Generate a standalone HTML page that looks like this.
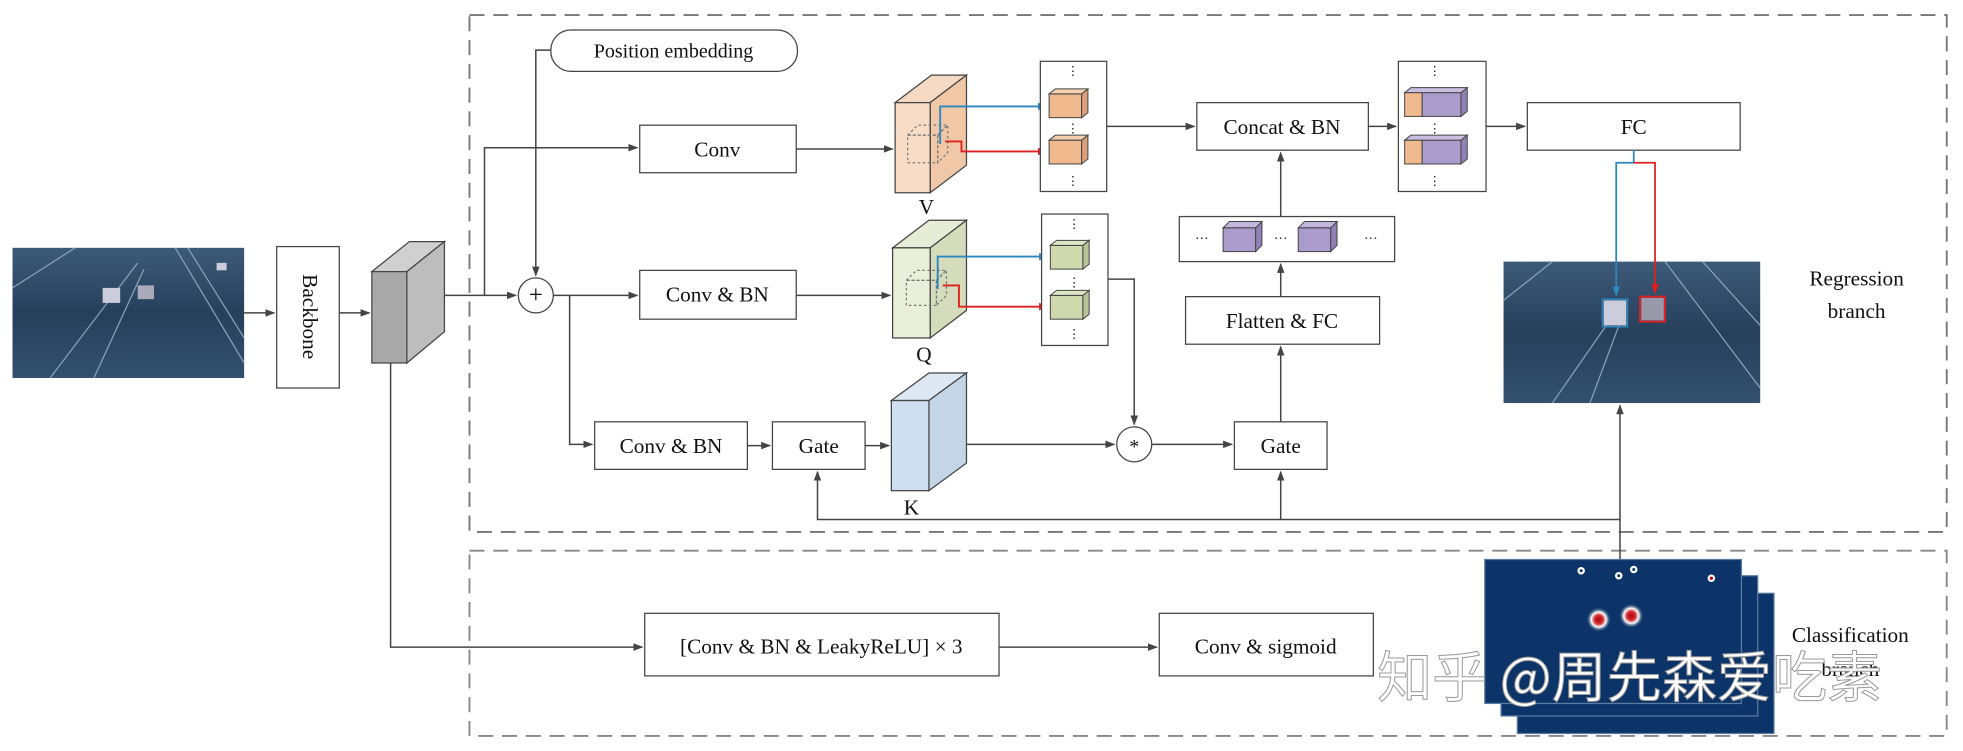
<!DOCTYPE html>
<html><head><meta charset="utf-8"><style>
html,body{margin:0;padding:0;background:#fff;}
svg{display:block;}
text{font-family:"Liberation Serif",serif;fill:#111;}
</style></head><body>
<svg width="1963" height="751" viewBox="0 0 1568 600" preserveAspectRatio="none" xmlns="http://www.w3.org/2000/svg">
<defs>
<marker id="a" markerWidth="8" markerHeight="8" refX="7" refY="4" orient="auto" markerUnits="userSpaceOnUse"><path d="M0,1 L8,4 L0,7 z" fill="#444"/></marker>
<marker id="ab" markerWidth="8" markerHeight="8" refX="7" refY="4" orient="auto" markerUnits="userSpaceOnUse"><path d="M0,1 L8,4 L0,7 z" fill="#2e86c1"/></marker>
<marker id="ar" markerWidth="8" markerHeight="8" refX="7" refY="4" orient="auto" markerUnits="userSpaceOnUse"><path d="M0,1 L8,4 L0,7 z" fill="#e02020"/></marker>
<linearGradient id="road" x1="0" y1="0" x2="0" y2="1"><stop offset="0" stop-color="#3d5a78"/><stop offset="0.5" stop-color="#26405c"/><stop offset="1" stop-color="#33506f"/></linearGradient>
<radialGradient id="hot"><stop offset="0" stop-color="#b00010"/><stop offset="0.35" stop-color="#d03030"/><stop offset="0.6" stop-color="#ffffff"/><stop offset="1" stop-color="#0a2f66" stop-opacity="0"/></radialGradient>
</defs>

<rect x="375" y="12" width="1180" height="413" fill="none" stroke="#777" stroke-width="1.5" stroke-dasharray="12,7"/>
<rect x="375" y="440" width="1180" height="148" fill="none" stroke="#888" stroke-width="1.5" stroke-dasharray="12,7"/>

<rect x="10" y="198" width="185" height="104" fill="url(#road)"/>
<path d="M10,230 L60,198 M140,198 L195,290 M40,302 L110,210 M75,302 L115,215 M150,198 L195,270" stroke="#8aa0b8" stroke-width="1" fill="none"/>
<rect x="82" y="230" width="14" height="12" fill="#ccd"/><rect x="110" y="228" width="13" height="11" fill="#aab"/>
<rect x="173" y="210" width="8" height="6" fill="#ccd"/>
<line x1="195" y1="250" x2="219" y2="250" stroke="#444" stroke-width="1.2" marker-end="url(#a)"/>

<rect x="221" y="197" width="50" height="113" fill="#fff" stroke="#444"/>
<text x="246" y="253" font-size="17" transform="rotate(90 246 253)" text-anchor="middle" dominant-baseline="middle">Backbone</text>
<line x1="271" y1="250" x2="295" y2="250" stroke="#444" stroke-width="1.2" marker-end="url(#a)"/>

<polygon points="297,217 325,217 355,193 327,193" fill="#d0d0d0" stroke="#444"/>
<polygon points="325,217 355,193 355,265 325,290" fill="#bdbdbd" stroke="#444"/>
<rect x="297" y="217" width="28" height="73" fill="#a9a9a9" stroke="#444"/>

<line x1="355" y1="236" x2="412" y2="236" stroke="#444" stroke-width="1.2" marker-end="url(#a)"/>
<polyline points="387,236 387,118 509,118" fill="none" stroke="#444" stroke-width="1.2" marker-end="url(#a)"/>
<polyline points="440,40 428,40 428,220" fill="none" stroke="#444" stroke-width="1.2" marker-end="url(#a)"/>
<circle cx="428" cy="236" r="14" fill="#fff" stroke="#444"/>
<text x="428" y="242" font-size="20" text-anchor="middle">+</text>
<rect x="440" y="24" width="197" height="33" rx="16" fill="#fff" stroke="#444"/>
<text x="538" y="46" font-size="16" text-anchor="middle">Position embedding</text>

<line x1="442" y1="236" x2="509" y2="236" stroke="#444" stroke-width="1.2" marker-end="url(#a)"/>
<polyline points="455,236 455,355 473,355" fill="none" stroke="#444" stroke-width="1.2" marker-end="url(#a)"/>

<rect x="511" y="100" width="125" height="38" fill="#fff" stroke="#444"/>
<text x="573" y="125" font-size="17" text-anchor="middle">Conv</text>
<rect x="511" y="216" width="125" height="39" fill="#fff" stroke="#444"/>
<text x="573" y="241" font-size="17" text-anchor="middle">Conv &amp; BN</text>
<rect x="475" y="337" width="122" height="38" fill="#fff" stroke="#444"/>
<text x="536" y="362" font-size="17" text-anchor="middle">Conv &amp; BN</text>
<line x1="597" y1="356" x2="615" y2="356" stroke="#444" stroke-width="1.2" marker-end="url(#a)"/>
<rect x="617" y="337" width="74" height="38" fill="#fff" stroke="#444"/>
<text x="654" y="362" font-size="17" text-anchor="middle">Gate</text>
<line x1="691" y1="356" x2="710" y2="356" stroke="#444" stroke-width="1.2" marker-end="url(#a)"/>

<line x1="636" y1="119" x2="713" y2="119" stroke="#444" stroke-width="1.2" marker-end="url(#a)"/>
<line x1="636" y1="236" x2="711" y2="236" stroke="#444" stroke-width="1.2" marker-end="url(#a)"/>

<polygon points="715,82 743,82 772,60 744,60" fill="#f6d9c2" stroke="#444"/>
<polygon points="743,82 772,60 772,132 743,154" fill="#f0c8a8" stroke="#444"/>
<rect x="715" y="82" width="28" height="72" fill="#f9dcc6" stroke="#444"/>
<g fill="none" stroke="#777" stroke-dasharray="2,2"><rect x="725" y="108" width="24" height="22"/><polygon points="725,108 733,100 757,100 749,108"/><polygon points="749,108 757,100 757,122 749,130"/></g>
<text x="740" y="171" font-size="17" text-anchor="middle">V</text>
<polygon points="713,198 743,198 772,176 742,176" fill="#e6ecd6" stroke="#444"/>
<polygon points="743,198 772,176 772,248 743,270" fill="#d4dcbc" stroke="#444"/>
<rect x="713" y="198" width="30" height="72" fill="#e9efd9" stroke="#444"/>
<g fill="none" stroke="#777" stroke-dasharray="2,2"><rect x="724" y="224" width="24" height="20"/><polygon points="724,224 732,216 756,216 748,224"/><polygon points="748,224 756,216 756,236 748,244"/></g>
<text x="738" y="289" font-size="17" text-anchor="middle">Q</text>
<polygon points="712,320 742,320 772,298 742,298" fill="#dde8f4" stroke="#444"/>
<polygon points="742,320 772,298 772,370 742,392" fill="#c4d5e8" stroke="#444"/>
<rect x="712" y="320" width="30" height="72" fill="#cfdff0" stroke="#444"/>
<text x="728" y="411" font-size="17" text-anchor="middle">K</text>

<polyline points="751,115 751,85 836,85" fill="none" stroke="#2e86c1" stroke-width="1.5" marker-end="url(#ab)"/>
<polyline points="755,113 768,113 768,121 836,121" fill="none" stroke="#e02020" stroke-width="1.5" marker-end="url(#ar)"/>
<polyline points="749,231 749,205 837,205" fill="none" stroke="#2e86c1" stroke-width="1.5" marker-end="url(#ab)"/>
<polyline points="753,228 766,228 766,245 837,245" fill="none" stroke="#e02020" stroke-width="1.5" marker-end="url(#ar)"/>

<rect x="831" y="49" width="53" height="104" fill="#fff" stroke="#444"/>
<g font-size="10" text-anchor="middle"><text x="857" y="60">⋮</text><text x="857" y="106">⋮</text><text x="857" y="148">⋮</text></g>
<g stroke="#444" stroke-width="0.8">
<rect x="838" y="75" width="26" height="19" fill="#f0b98e"/><polygon points="864,75 869,71 869,90 864,94" fill="#dba078"/><polygon points="838,75 843,71 869,71 864,75" fill="#f6cfae"/>
<rect x="838" y="112" width="26" height="19" fill="#f0b98e"/><polygon points="864,112 869,108 869,127 864,131" fill="#dba078"/><polygon points="838,112 843,108 869,108 864,112" fill="#f6cfae"/>
</g>
<rect x="832" y="171" width="53" height="105" fill="#fff" stroke="#444"/>
<g font-size="10" text-anchor="middle"><text x="858" y="182">⋮</text><text x="858" y="229">⋮</text><text x="858" y="270">⋮</text></g>
<g stroke="#444" stroke-width="0.8">
<rect x="839" y="196" width="26" height="19" fill="#cfd9ad"/><polygon points="865,196 870,192 870,211 865,215" fill="#b8c495"/><polygon points="839,196 844,192 870,192 865,196" fill="#dfe6c6"/>
<rect x="839" y="236" width="26" height="19" fill="#cfd9ad"/><polygon points="865,236 870,232 870,251 865,255" fill="#b8c495"/><polygon points="839,236 844,232 870,232 865,236" fill="#dfe6c6"/>
</g>

<line x1="884" y1="101" x2="954" y2="101" stroke="#444" stroke-width="1.2" marker-end="url(#a)"/>
<polyline points="885,223 906,223 906,339" fill="none" stroke="#444" stroke-width="1.2" marker-end="url(#a)"/>
<line x1="772" y1="355" x2="890" y2="355" stroke="#444" stroke-width="1.2" marker-end="url(#a)"/>
<circle cx="906" cy="355" r="14" fill="#fff" stroke="#444"/>
<text x="906" y="362" font-size="16" text-anchor="middle">*</text>
<line x1="920" y1="355" x2="984" y2="355" stroke="#444" stroke-width="1.2" marker-end="url(#a)"/>

<rect x="956" y="82" width="137" height="38" fill="#fff" stroke="#444"/>
<text x="1024" y="107" font-size="17" text-anchor="middle">Concat &amp; BN</text>
<rect x="942" y="173" width="172" height="36" fill="#fff" stroke="#444"/>
<g font-size="11" text-anchor="middle"><text x="960" y="194">···</text><text x="1023" y="194">···</text><text x="1095" y="194">···</text></g>
<g stroke="#444" stroke-width="0.8">
<rect x="977" y="182" width="26" height="19" fill="#a99bcc"/><polygon points="1003,182 1008,177 1008,196 1003,201" fill="#8f80b5"/><polygon points="977,182 982,177 1008,177 1003,182" fill="#c1b6dd"/>
<rect x="1037" y="182" width="26" height="19" fill="#a99bcc"/><polygon points="1063,182 1068,177 1068,196 1063,201" fill="#8f80b5"/><polygon points="1037,182 1042,177 1068,177 1063,182" fill="#c1b6dd"/>
</g>
<rect x="947" y="237" width="155" height="38" fill="#fff" stroke="#444"/>
<text x="1024" y="262" font-size="17" text-anchor="middle">Flatten &amp; FC</text>
<rect x="986" y="337" width="74" height="38" fill="#fff" stroke="#444"/>
<text x="1023" y="362" font-size="17" text-anchor="middle">Gate</text>
<line x1="1023" y1="337" x2="1023" y2="277" stroke="#444" stroke-width="1.2" marker-end="url(#a)"/>
<line x1="1023" y1="237" x2="1023" y2="211" stroke="#444" stroke-width="1.2" marker-end="url(#a)"/>
<line x1="1023" y1="173" x2="1023" y2="122" stroke="#444" stroke-width="1.2" marker-end="url(#a)"/>
<line x1="1093" y1="101" x2="1115" y2="101" stroke="#444" stroke-width="1.2" marker-end="url(#a)"/>

<rect x="1117" y="49" width="70" height="104" fill="#fff" stroke="#444"/>
<g font-size="10" text-anchor="middle"><text x="1146" y="60">⋮</text><text x="1146" y="106">⋮</text><text x="1146" y="148">⋮</text></g>
<g stroke="#444" stroke-width="0.8">
<rect x="1122" y="74" width="14" height="19" fill="#f0b98e"/><rect x="1136" y="74" width="31" height="19" fill="#a99bcc"/><polygon points="1167,74 1172,70 1172,89 1167,93" fill="#8f80b5"/><polygon points="1122,74 1127,70 1172,70 1167,74" fill="#c9bfe0"/>
<rect x="1122" y="112" width="14" height="19" fill="#f0b98e"/><rect x="1136" y="112" width="31" height="19" fill="#a99bcc"/><polygon points="1167,112 1172,108 1172,127 1167,131" fill="#8f80b5"/><polygon points="1122,112 1127,108 1172,108 1167,112" fill="#c9bfe0"/>
</g>
<line x1="1187" y1="101" x2="1218" y2="101" stroke="#444" stroke-width="1.2" marker-end="url(#a)"/>
<rect x="1220" y="82" width="170" height="38" fill="#fff" stroke="#444"/>
<text x="1305" y="107" font-size="17" text-anchor="middle">FC</text>

<rect x="1201" y="209" width="205" height="113" fill="url(#road)"/>
<path d="M1201,240 L1240,209 M1330,209 L1406,310 M1240,322 L1290,250 M1270,322 L1295,255 M1360,209 L1406,260" stroke="#8aa0b8" stroke-width="1" fill="none"/>
<rect x="1281" y="240" width="18" height="20" fill="#ccd"/><rect x="1311" y="238" width="18" height="18" fill="#99a"/>
<rect x="1280" y="239" width="20" height="22" fill="none" stroke="#2e86c1" stroke-width="1.2"/>
<rect x="1310" y="237" width="20" height="20" fill="none" stroke="#e02020" stroke-width="1.5"/>
<polyline points="1305,120 1305,130 1291,130 1291,236" fill="none" stroke="#2e86c1" stroke-width="1.4" marker-end="url(#ab)"/>
<polyline points="1305,130 1322,130 1322,234" fill="none" stroke="#e02020" stroke-width="1.4" marker-end="url(#ar)"/>
<text x="1483" y="228" font-size="17" text-anchor="middle">Regression</text>
<text x="1483" y="254" font-size="17" text-anchor="middle">branch</text>

<polyline points="1294,447 1294,415 653,415 653,377" fill="none" stroke="#444" stroke-width="1.2" marker-end="url(#a)"/>
<line x1="1023" y1="415" x2="1023" y2="377" stroke="#444" stroke-width="1.2" marker-end="url(#a)"/>
<line x1="1294" y1="415" x2="1294" y2="324" stroke="#444" stroke-width="1.2" marker-end="url(#a)"/>

<polyline points="312,290 312,517 513,517" fill="none" stroke="#444" stroke-width="1.2" marker-end="url(#a)"/>
<rect x="515" y="490" width="283" height="50" fill="#fff" stroke="#444"/>
<text x="656" y="522" font-size="17" text-anchor="middle">[Conv &amp; BN &amp; LeakyReLU] × 3</text>
<line x1="798" y1="517" x2="924" y2="517" stroke="#444" stroke-width="1.2" marker-end="url(#a)"/>
<rect x="926" y="490" width="171" height="50" fill="#fff" stroke="#444"/>
<text x="1011" y="522" font-size="17" text-anchor="middle">Conv &amp; sigmoid</text>

<rect x="1212" y="474" width="205" height="112" fill="#0c3468" stroke="#5a7ba0"/>
<rect x="1199" y="460" width="205" height="112" fill="#0c3468" stroke="#5a7ba0"/>
<rect x="1186" y="447" width="205" height="115" fill="#0c3468" stroke="#5a7ba0"/>
<circle cx="1277" cy="495" r="10" fill="url(#hot)"/>
<circle cx="1303" cy="492" r="10" fill="url(#hot)"/>
<g fill="#fff"><circle cx="1263" cy="456" r="3"/><circle cx="1293" cy="460" r="3"/><circle cx="1305" cy="455" r="3"/><circle cx="1367" cy="462" r="3"/></g>
<g fill="#0c3468"><circle cx="1263" cy="456" r="1.2"/><circle cx="1293" cy="460" r="1.2"/><circle cx="1305" cy="455" r="1.2"/></g><circle cx="1367" cy="462" r="1.3" fill="#b00010"/>
<text x="1478" y="513" font-size="17" text-anchor="middle">Classification</text>
<text x="1478" y="540" font-size="17" text-anchor="middle">branch</text>
<text x="1100" y="557" font-size="44" style="font-family:'Noto Sans CJK SC',sans-serif;fill:#fff;stroke:#999;stroke-width:0.8;">知乎 @周先森爱吃素</text>
</svg>
</body></html>
